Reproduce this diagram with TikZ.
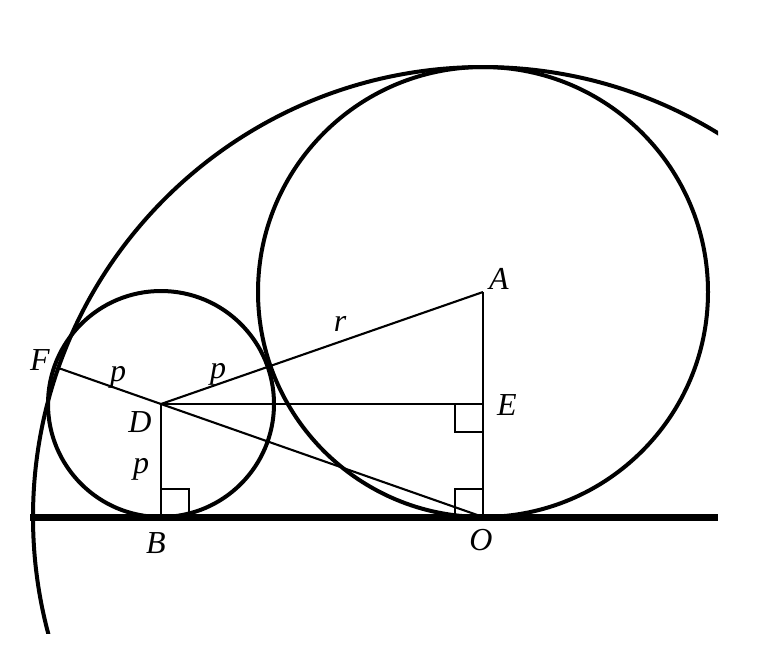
\documentclass[tikz,border=0pt]{standalone}
\usepackage{fontspec}
\setmainfont{Liberation Serif}
\begin{document}
\begin{tikzpicture}[x=1pt,y=-1pt,
  thickc/.style={line width=4pt},
  thinl/.style={line width=2.1pt},
  lbl/.style={inner sep=0pt,font=\fontsize{32}{38}\selectfont\itshape}]
\useasboundingbox (0,0) rectangle (762,670);
\coordinate (O) at (483,517);
\coordinate (A) at (483,292);
\coordinate (D) at (161,404);
\coordinate (B) at (161,517);
\coordinate (E) at (483,404);
\coordinate (F) at (58.4,368);
\coordinate (GL) at (30,517);
\coordinate (GR) at (718,517);
% outer arc
\begin{scope}
  \clip (0,0) rectangle (718,633);
  \draw[thickc] (O) circle[radius=450];
\end{scope}
% circles
\draw[thickc] (A) circle[radius=225];
\draw[thickc] (D) circle[radius=113];
% ground line
\draw[line width=7pt] (GL) -- (GR);
% inner lines
\draw[thinl] (D) -- (A);
\draw[thinl] (A) -- (O);
\draw[thinl] (D) -- (E);
\draw[thinl] (D) -- (B);
\draw[thinl] (F) -- (O);
% right-angle marks
\draw[thinl] ([yshift=28pt]B) -| ([xshift=28pt]B);
\draw[thinl] ([xshift=-28pt]E) |- ([yshift=-28pt]E);
\draw[thinl] ([xshift=-28pt]O) |- ([yshift=28pt]O);
% labels
\node[lbl] (lA) at (499,279) {A};
\node[lbl] (lE) at (507,405) {E};
\node[lbl] (lO) at (481,540) {O};
\node[lbl] (lB) at (156,543) {B};
\node[lbl] (lD) at (140,422) {D};
\node[lbl] (lF) at (40,360) {F};
\node[lbl] (lp1) at (118,377) {p};
\node[lbl] (lp2) at (218,374) {p};
\node[lbl] (lp3) at (141,469) {p};
\node[lbl] (lr) at (340,324) {r};
\end{tikzpicture}
\end{document}
